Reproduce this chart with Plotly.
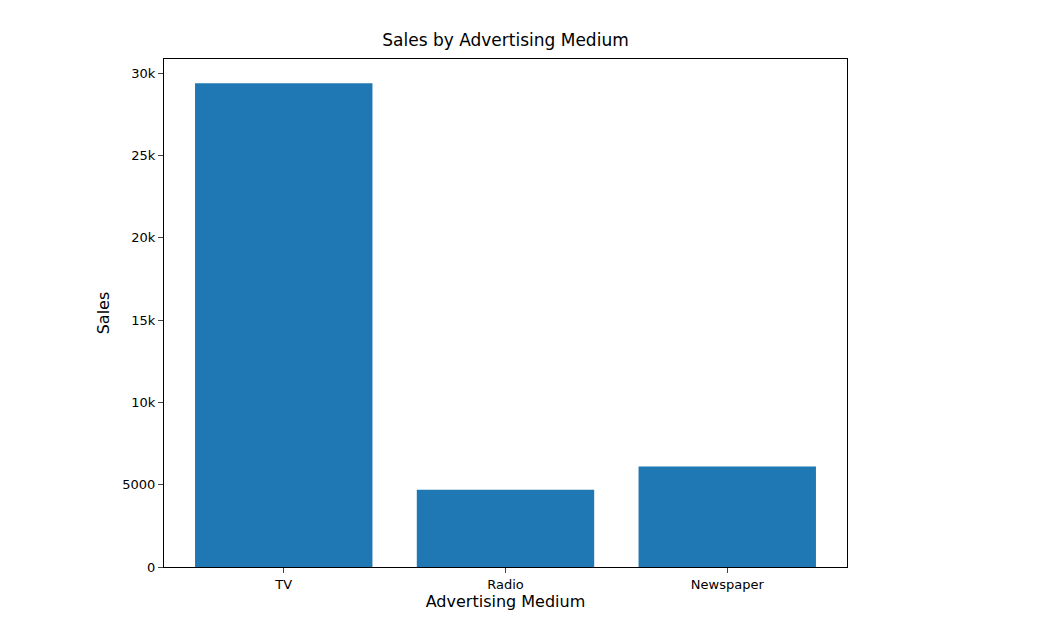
import plotly.graph_objects as go

categories = ["TV", "Radio", "Newspaper"]
sales = [29400, 4690, 6100]

fig = go.Figure(go.Bar(x=list(range(len(categories))), y=sales, width=0.8,
                       marker=dict(color="#1f77b4", line=dict(width=0))))
fig.update_layout(
    width=1057, height=637, paper_bgcolor="white", plot_bgcolor="white",
    margin=dict(l=156, r=1057-839, t=51, b=637-559),
    title=dict(text="Sales by Advertising Medium", x=(156+839)/2/1057, xanchor="center",
               y=1-32/637, yanchor="middle", font=dict(size=17, color="black")),
    font=dict(family="DejaVu Sans", size=13, color="black"),
    showlegend=False,
)
fig.update_xaxes(range=[-0.54, 2.54], tickvals=[0, 1, 2], ticktext=categories,
                 showline=True, linecolor="black", mirror=True, ticks="outside",
                 ticklen=5, showgrid=False, zeroline=False,
                 title=dict(text="Advertising Medium", standoff=4))
fig.update_yaxes(range=[0, 30870], tickvals=[0, 5000, 10000, 15000, 20000, 25000, 30000],
                 showline=True, linecolor="black", mirror=True, ticks="outside",
                 ticklen=5, showgrid=False, zeroline=False,
                 title=dict(text="Sales", standoff=8))
fig.write_html("out.html")
